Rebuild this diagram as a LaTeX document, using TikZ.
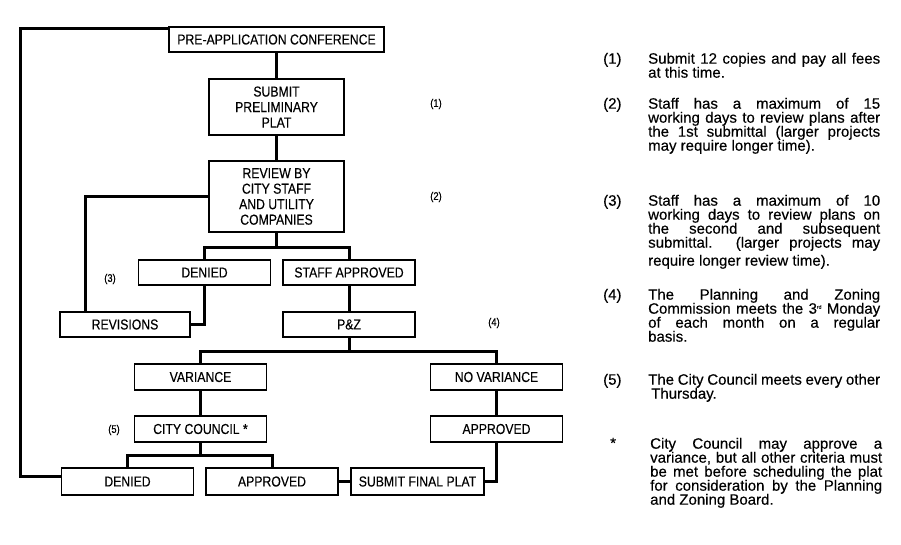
\documentclass[tikz,border=0pt]{standalone}
\usepackage{fontspec}
\setmainfont{Liberation Sans}[FakeBold=0.3]
\newfontfamily\boxfont{Liberation Sans}[FakeStretch=0.85,FakeBold=0.3]
\usepackage{tikz}
\usetikzlibrary{positioning}
\newcommand\tightlines{\lineskiplimit=-10pt\relax\lineskip=0pt\relax}

\begin{document}
\hyphenpenalty=10000
\begin{tikzpicture}
            [x=1pt,y=-1pt,
             box/.style={draw, line width=1.2pt, fill=white, inner sep=0pt, minimum width=132pt, minimum height=26pt, align=center, font=\boxfont\fontsize{14.4}{15.5}\selectfont},
             link/.style={line width=3pt},
             tag/.style={inner sep=0pt, font=\boxfont\fontsize{11}{12}\selectfont},
             num/.style={anchor=north west, inner sep=0pt, font=\fontsize{15}{14}\selectfont},
             note/.style={anchor=north west, inner sep=0pt, text width=232pt, align=justify, font=\fontsize{15}{14}\selectfont, execute at begin node=\tightlines}]
            \useasboundingbox[fill=white] (0,0) rectangle (901,544);

            % flow chart
            \node[box, minimum width=215pt, minimum height=25pt] (pac) at (276.5,39.5) {PRE-APPLICATION CONFERENCE};
            \node[box, minimum width=135pt, minimum height=56pt] (spp) at (276.5,107) {SUBMIT\\PRELIMINARY\\PLAT};
            \node[box, minimum width=135pt, minimum height=71pt] (rev) at (276.5,196.5) {REVIEW BY\\CITY STAFF\\AND UTILITY\\COMPANIES};
            \node[box, minimum height=25pt] (den1) at (204.5,272.5) {DENIED};
            \node[box, minimum height=25pt] (sa) at (349,272.5) {STAFF APPROVED};
            \node[box, minimum width=130pt, minimum height=25pt] (revs) at (125,324.5) {REVISIONS};
            \node[box, minimum height=25pt] (pz) at (349,324.5) {P\&Z};
            \node[box] (var) at (200.5,377) {VARIANCE};
            \node[box] (nv) at (496.5,377) {NO VARIANCE};
            \node[box] (cc) at (200.5,429) {CITY COUNCIL *};
            \node[box] (app1) at (496.5,429) {APPROVED};
            \node[box, minimum height=27pt] (den2) at (127.5,481.5) {DENIED};
            \node[box, minimum height=27pt] (app2) at (272,481.5) {APPROVED};
            \node[box, minimum width=133pt, minimum height=27pt] (sfp) at (417.5,481.5) {SUBMIT FINAL PLAT};

            \foreach \from/\to in {pac/spp, spp/rev, sa/pz, var/cc, nv/app1, app2/sfp}
            \draw[link] (\from) -- (\to);

            \coordinate (b1) at (276.5,247);
            \draw[link] (rev) -- (b1);
            \draw[link] (den1.north) |- (b1) -| (sa.north);
            \draw[link] (den1.south) |- (revs.east);
            \draw[link] (rev.west) -| ([xshift=26pt]revs.north west);

            \coordinate (b2) at (349,351);
            \draw[link] (pz) -- (b2);
            \draw[link] (var.north) |- (b2) -| (nv.north);

            \coordinate (b3) at (200.5,455);
            \draw[link] (cc) -- (b3);
            \draw[link] (den2.north) |- (b3) -| (app2.north);
            \draw[link] (app1.south) |- (sfp.east);

            \coordinate (lp) at (20,28.5);
            \draw[link] ([yshift=5pt]den2.west) -| (lp) -- (lp -| pac.west);

            % step numbers
            \node[tag] (t1) at (436,104) {(1)};
            \node[tag] (t2) at (436,197) {(2)};
            \node[tag] (t3) at (110,279) {(3)};
            \node[tag] (t4) at (494,323) {(4)};
            \node[tag] (t5) at (114,430) {(5)};

            % notes
            \node[num] (k1) at (603,52.6) {(1)};
            \node[note] (m1) at (648,52.6) {Submit 12 copies and pay all fees\linebreak at this time.};
            \node[num] (k2) at (603,97.6) {(2)};
            \node[note] (m2) at (648,97.6) {Staff has a maximum of 15\linebreak working days to review plans after\linebreak the 1st submittal (larger projects\linebreak may require longer time).};
            \node[num] (k3) at (603,194.6) {(3)};
            \node[note] (m3) at (648,194.6) {Staff has a maximum of 10\linebreak working days to review plans on\linebreak the second and subsequent\linebreak submittal. (larger projects may\vadjust{\vskip 4pt}\linebreak require longer review time).};
            \node[num] (k4) at (603,288.6) {(4)};
            \node[note] (m4) at (648,288.6) {The Planning and Zoning\linebreak Commission meets the 3\raisebox{5pt}{\fontsize{5}{5}\selectfont rd} Monday\linebreak of each month on a regular\linebreak basis.};
            \node[num] (k5) at (603,373.6) {(5)};
            \node[note] (m5) at (648,373.6) {The City Council meets every other\linebreak\hspace*{3pt}Thursday.};
            \node[num] (k6) at (610,437.6) {*};
            \node[note] (m6) at (650,437.6) {City Council may approve a\linebreak variance, but all other criteria must\linebreak be met before scheduling the plat\linebreak for consideration by the Planning\linebreak and Zoning Board.};
          \end{tikzpicture}
\end{document}
